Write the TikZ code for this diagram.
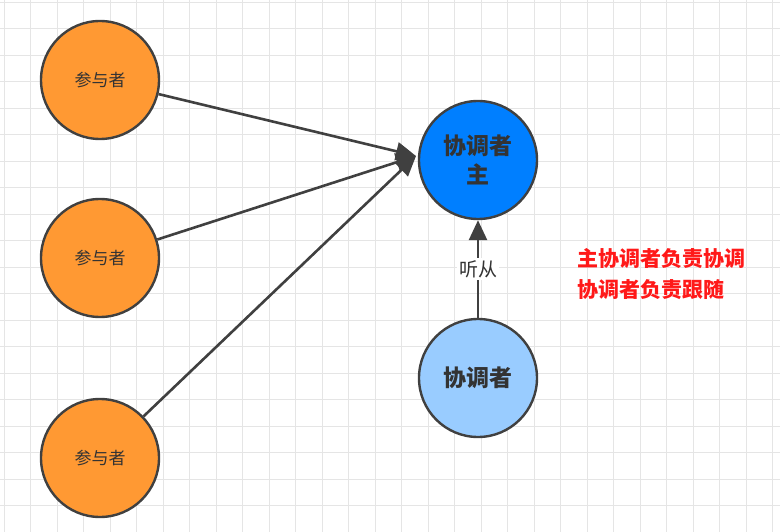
\documentclass[tikz,border=0pt]{standalone}
\usepackage{fontspec}
\setmainfont{Noto Sans CJK SC}
\usetikzlibrary{arrows.meta}
\begin{document}
\begin{tikzpicture}[x=1pt,y=-1pt,
 circ/.style={circle,draw=black!75,line width=2.4pt,minimum size=118pt,inner sep=0pt,text=black!80,font=\fontsize{17}{19}\selectfont},
 conn/.style={draw=black!75,line width=2.6pt,-{Triangle[length=20pt,width=18pt]}}]
\useasboundingbox (0,0) rectangle (780,532);
\fill[white] (0,0) rectangle (780,532);
\foreach \i in {0,...,30} {\draw[black!10,line width=0.8pt] (\i*26.5+4,0) -- (\i*26.5+4,532);}
\foreach \j in {0,...,20} {\draw[black!10,line width=0.8pt] (0,\j*26.5+2) -- (780,\j*26.5+2);}
\node[circ,fill={rgb,255:red,255;green,153;blue,51}] (p1) at (100,80) {参与者};
\node[circ,fill={rgb,255:red,255;green,153;blue,51}] (p2) at (100,258) {参与者};
\node[circ,fill={rgb,255:red,255;green,153;blue,51}] (p3) at (100,458) {参与者};
\node[circ,fill={rgb,255:red,0;green,127;blue,255},font=\fontsize{23}{29}\selectfont\bfseries,align=center] (m) at (478,160) {协调者\\主};
\node[circ,fill={rgb,255:red,153;green,204;blue,255},font=\fontsize{23}{27}\selectfont\bfseries] (c) at (478,378) {协调者};
\coordinate (t) at (416,156);
\draw[conn] (p1) -- (t);
\draw[conn] (p2) -- (t);
\draw[conn] (p3) -- (t);
\draw[conn] (c) -- node[fill=white,text=black!80,font=\fontsize{19}{22}\selectfont,inner sep=2pt] {听从} (m);
\node[anchor=west,text=red!90!white,font=\fontsize{21}{31}\selectfont\bfseries,align=left] (r) at (574,274) {主协调者负责协调\\协调者负责跟随};
\end{tikzpicture}
\end{document}
